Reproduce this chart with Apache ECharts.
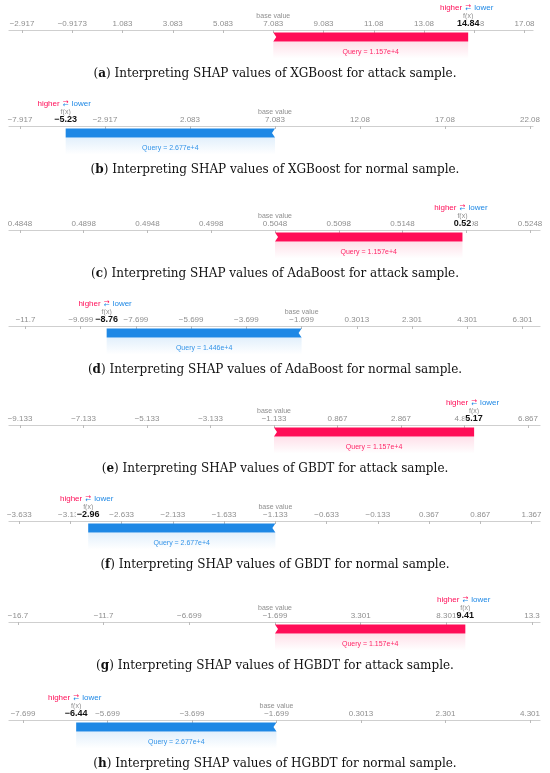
<!DOCTYPE html>
<html>
<head>
<meta charset="utf-8">
<script src="https://cdn.jsdelivr.net/npm/echarts@6/dist/echarts.min.js"></script>
<style>html,body{margin:0;padding:0;background:#fff;}#c{width:550px;height:773px;}</style>
</head>
<body>
<div id="c"></div>
<script>
// ---- data ----
const panelLetters = ['a','b','c','d','e','f','g','h'];
const models = ['XGBoost','XGBoost','AdaBoost','AdaBoost','GBDT','GBDT','HGBDT','HGBDT'];
const sampleTypes = ['attack','normal','attack','normal','attack','normal','attack','normal'];
const baseValues = [7.083, 7.083, 0.5048, -1.699, -1.133, -1.133, -1.699, -1.699];
const fxValues = [14.84, -5.23, 0.5195, -8.76, 5.17, -2.96, 9.41, -6.44];
const fxLabels = ['14.84','\u22125.23','0.52','\u22128.76','5.17','\u22122.96','9.41','\u22126.44'];
const queryLabels = ['Query = 1.157e+4','Query = 2.677e+4','Query = 1.157e+4','Query = 1.446e+4','Query = 1.157e+4','Query = 2.677e+4','Query = 1.157e+4','Query = 2.677e+4'];
const tickValues = [
  [-2.9173,-0.9173,1.0827,3.0827,5.0827,7.0827,9.0827,11.0827,13.0827,15.0827,17.0827],
  [-7.917,-2.917,2.083,7.083,12.083,17.083,22.083],
  [0.4848,0.4898,0.4948,0.4998,0.5048,0.5098,0.5148,0.5198,0.5248],
  [-11.699,-9.699,-7.699,-5.699,-3.699,-1.699,0.3013,2.301,4.301,6.301],
  [-9.133,-7.133,-5.133,-3.133,-1.133,0.867,2.867,4.867,6.867],
  [-3.633,-3.133,-2.633,-2.133,-1.633,-1.133,-0.633,-0.133,0.367,0.867,1.367],
  [-16.699,-11.699,-6.699,-1.699,3.301,8.301,13.301],
  [-7.699,-5.699,-3.699,-1.699,0.3013,2.301,4.301]
];
const tickLabels = [
  ['\u22122.917','\u22120.9173','1.083','3.083','5.083','7.083','9.083','11.08','13.08','15.08','17.08'],
  ['\u22127.917','\u22122.917','2.083','7.083','12.08','17.08','22.08'],
  ['0.4848','0.4898','0.4948','0.4998','0.5048','0.5098','0.5148','0.5198','0.5248'],
  ['\u221211.7','\u22129.699','\u22127.699','\u22125.699','\u22123.699','\u22121.699','0.3013','2.301','4.301','6.301'],
  ['\u22129.133','\u22127.133','\u22125.133','\u22123.133','\u22121.133','0.867','2.867','4.867','6.867'],
  ['\u22123.633','\u22123.133','\u22122.633','\u22122.133','\u22121.633','\u22121.133','\u22120.633','\u22120.133','0.367','0.867','1.367'],
  ['\u221216.7','\u221211.7','\u22126.699','\u22121.699','3.301','8.301','13.3'],
  ['\u22127.699','\u22125.699','\u22123.699','\u22121.699','0.3013','2.301','4.301']
];
const axisMin = [-3.435, -8.564, 0.48394, -12.297, -9.479, -3.733, -17.224, -8.030];
const axisMax = [17.42, 22.26, 0.52558, 6.935, 7.245, 1.450, 13.768, 4.538];

// ---- layout / style ----
const axisY = [30, 126, 230, 326, 425, 521, 622, 720];
const axisRight = [17, 17, 10, 10, 10, 10, 10, 10];
const RED = '#ff0d57', BLUE = '#1e88e5';
const SANS = '"Liberation Sans", Arial, sans-serif';
const SERIF = '"DejaVu Serif", serif';

const grids = [], xAxes = [], yAxes = [], series = [], graphics = [];
for (let i = 0; i < 8; i++) {
  grids.push({left: 9, right: axisRight[i], top: axisY[i], height: 30});
  const tv = tickValues[i], tl = tickLabels[i];
  xAxes.push({
    gridIndex: i, type: 'value', position: 'top',
    min: axisMin[i], max: axisMax[i],
    axisLine: {show: true, lineStyle: {color: '#cfcfcf', width: 1.2}},
    axisTick: {show: true, inside: true, length: 3, lineStyle: {color: '#bbbbbb'}, customValues: tv},
    axisLabel: {
      customValues: tv, fontSize: 8, color: '#8f8f8f', fontFamily: SANS, margin: 2,
      formatter: function (v) {
        for (let k = 0; k < tv.length; k++) if (Math.abs(tv[k] - v) < 1e-7) return tl[k];
        return '';
      }
    },
    splitLine: {show: false}
  });
  yAxes.push({gridIndex: i, type: 'value', min: 0, max: 30, inverse: true, show: false});
  series.push({
    type: 'custom', xAxisIndex: i, yAxisIndex: i,
    encode: {x: [0, 1]},
    data: [[baseValues[i], fxValues[i]]],
    z: 5,
    renderItem: (function (idx) {
      return function (params, api) {
        const b = api.value(0), f = api.value(1);
        const pb = api.coord([b, 0]), pf = api.coord([f, 0]);
        const y0 = pb[1];
        const top = y0 + 2.5, bot = y0 + 11.5, mid = (top + bot) / 2;
        const pos = f > b;
        const col = pos ? RED : BLUE;
        const xb = pb[0], xf = pf[0];
        const x1 = Math.min(xb, xf), x2 = Math.max(xb, xf);
        let pts;
        if (pos) pts = [[xb, top], [xf, top], [xf, bot], [xb, bot], [xb + 3, mid]];
        else pts = [[xf, top], [xb, top], [xb - 3, mid], [xb, bot], [xf, bot]];
        const fade = pos ? ['rgba(255,13,87,0.13)', 'rgba(255,13,87,0)'] : ['rgba(30,136,229,0.13)', 'rgba(30,136,229,0)'];
        return {
          type: 'group',
          children: [
            {type: 'rect', shape: {x: x1, y: bot, width: x2 - x1, height: 17},
              style: {fill: new echarts.graphic.LinearGradient(0, 0, 0, 1, [{offset: 0, color: fade[0]}, {offset: 1, color: fade[1]}])}},
            {type: 'polygon', shape: {points: pts}, style: {fill: col}},
            {type: 'text', x: xb, y: y0 - 14, style: {text: 'base value', fill: '#8f8f8f', font: '7px ' + SANS, align: 'center', verticalAlign: 'middle'}},
            {type: 'text', x: xf, y: y0 - 14, style: {text: 'f(x)', fill: '#8f8f8f', font: '7px ' + SANS, align: 'center', verticalAlign: 'middle'}},
            {type: 'text', x: xf, y: y0 - 6, style: {text: fxLabels[idx], fill: '#111', font: 'bold 9px ' + SANS, align: 'center', verticalAlign: 'middle', backgroundColor: '#fff', padding: [0, 1]}},
            {type: 'text', x: xf - 6, y: y0 - 22, style: {text: 'higher', fill: RED, font: '8px ' + SANS, align: 'right', verticalAlign: 'middle'}},
            {type: 'text', x: xf, y: y0 - 23.5, style: {text: '\u2192', fill: RED, font: '7px "DejaVu Sans"', align: 'center', verticalAlign: 'middle'}},
            {type: 'text', x: xf, y: y0 - 20.5, style: {text: '\u2190', fill: BLUE, font: '7px "DejaVu Sans"', align: 'center', verticalAlign: 'middle'}},
            {type: 'text', x: xf + 6, y: y0 - 22, style: {text: 'lower', fill: BLUE, font: '8px ' + SANS, align: 'left', verticalAlign: 'middle'}},
            {type: 'text', x: (xb + xf) / 2, y: y0 + 22, style: {text: queryLabels[idx], fill: col, font: '7px ' + SANS, align: 'center', verticalAlign: 'middle', opacity: 0.9}}
          ]
        };
      };
    })(i)
  });
  graphics.push({
    type: 'text', x: 275, y: axisY[i] + 44,
    style: {
      text: '({b|' + panelLetters[i] + '}) Interpreting SHAP values of ' + models[i] + ' for ' + sampleTypes[i] + ' sample.',
      fill: '#111', fontFamily: SERIF, fontSize: 12, align: 'center', verticalAlign: 'middle',
      rich: {b: {fontWeight: 'bold', fontFamily: SERIF, fontSize: 12, fill: '#111'}}
    }
  });
}

const chart = echarts.init(document.getElementById('c'), null, {renderer: 'canvas', width: 550, height: 773});
chart.setOption({
  animation: false,
  backgroundColor: '#fff',
  grid: grids, xAxis: xAxes, yAxis: yAxes, series: series,
  graphic: graphics
});
</script>
</body>
</html>
